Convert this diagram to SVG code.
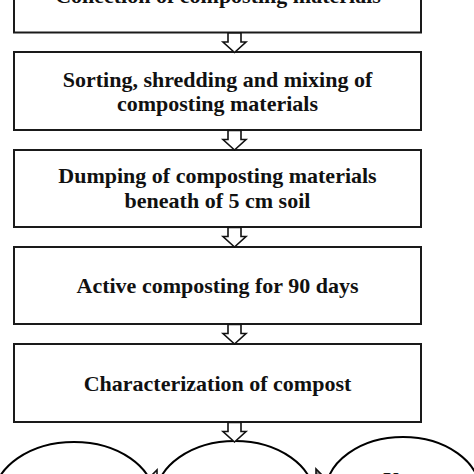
<svg xmlns="http://www.w3.org/2000/svg" width="474" height="474" viewBox="0 0 474 474">
<style>
.box{fill:#fff;stroke:#1a1a1a;stroke-width:2}
.ell{fill:#fff;stroke:#000;stroke-width:2}
.t{font-family:"Liberation Serif","Times New Roman",serif;font-weight:bold;font-size:22px;fill:#111;text-anchor:middle}
.arr{fill:#fff;stroke:#111;stroke-width:1.6;stroke-linejoin:miter}
</style>
<defs>
<path id="dn" d="M-6.5,0 V9 H-11.5 L0,19.5 L11.5,9 H6.5 V0 Z"/>
</defs>
<rect width="474" height="474" fill="#fff"/>
<g id="n1"><rect class="box" x="14" y="-45" width="407" height="77.5"/><text class="t" x="218" y="2.5">Collection of composting materials</text></g>
<g id="n2"><rect class="box" x="14" y="52" width="407" height="78"/><text class="t" x="217.5" y="87">Sorting, shredding and mixing of</text><text class="t" x="217.5" y="111">composting materials</text></g>
<g id="n3"><rect class="box" x="14" y="150" width="407" height="77"/><text class="t" x="217.5" y="183">Dumping of composting materials</text><text class="t" x="217.5" y="208">beneath of 5 cm soil</text></g>
<g id="n4"><rect class="box" x="14" y="247" width="407" height="77"/><text class="t" x="217.5" y="293">Active composting for 90 days</text></g>
<g id="n5"><rect class="box" x="14" y="344" width="407" height="78"/><text class="t" x="217.5" y="391">Characterization of compost</text></g>
<g id="e1"><ellipse class="ell" cx="74" cy="498" rx="80" ry="56"/></g>
<g id="e2"><ellipse class="ell" cx="235" cy="497" rx="79" ry="56"/></g>
<g id="e3"><ellipse class="ell" cx="403" cy="492" rx="77" ry="55"/><text class="t" x="400" y="487">Use</text></g>
<g id="connectors">
<use href="#dn" class="arr" x="234.5" y="33"/>
<use href="#dn" class="arr" x="234.5" y="130.5"/>
<use href="#dn" class="arr" x="234.5" y="227.5"/>
<use href="#dn" class="arr" x="234.5" y="324.5"/>
<use href="#dn" class="arr" x="234.5" y="422.5"/>
<path class="arr" d="M166,476 H157 V470 L146,481 L157,492 V486 H166 Z"/>
<path class="arr" style="fill:#888" d="M306,476 H316 V469 L327,480 L316,491 V484 H306 Z"/>
</g>
</svg>
